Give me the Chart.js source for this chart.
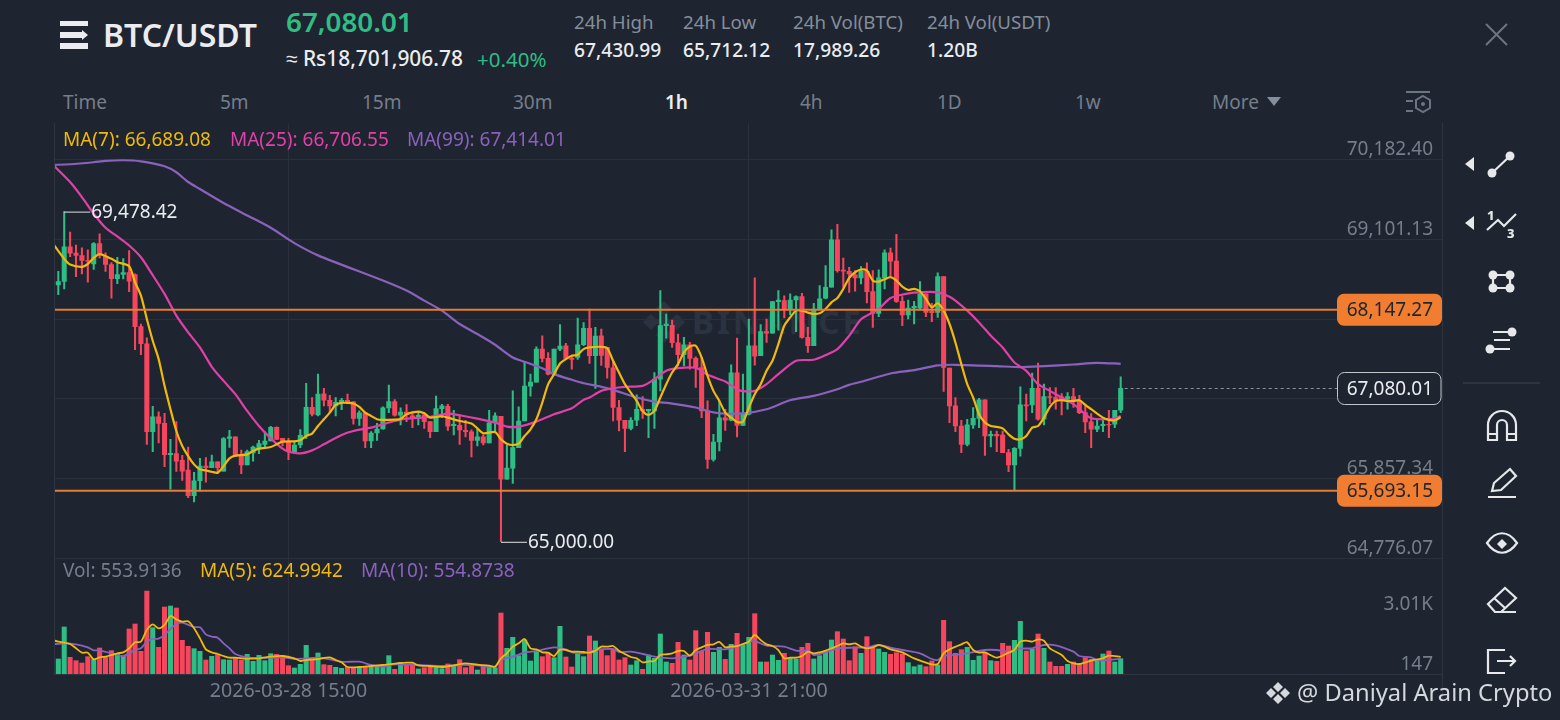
<!DOCTYPE html>
<html>
<head>
<meta charset="utf-8">
<title>BTC/USDT</title>
<script src="https://cdn.jsdelivr.net/npm/chart.js@4"></script>
<style>
  html, body { margin: 0; padding: 0; background: #1e2530; }
  #page { position: relative; width: 1560px; height: 720px; overflow: hidden; background: #1e2530; font-family: "Noto Sans", sans-serif; color: #848e9c; }
  #page div { position: absolute; white-space: nowrap; line-height: 1; }
  canvas { position: absolute; left: 54px; }
  #priceChart { top: 121px; }
  #volChart { top: 558px; }
  svg { position: absolute; overflow: visible; left: 0; top: 0; }
  .tab { top: 93px; font-size: 19px; color: #757e8b; }
  .statHead { top: 13px; font-size: 18.7px; color: #848e9c; }
  .statVal { top: 40px; font-size: 19.2px; color: #eaecef; font-weight: 500; }
  .leg { font-size: 19px; }
  .rule { background: #2e3541; }
</style>
</head>
<body>
<div id="page">
  <div style="left:643px;top:305px;font-size:33px;font-weight:700;letter-spacing:3px;color:#2c3340;padding-left:49px;">BINANCE</div>
  <svg width="1560" height="720" style="z-index:0">
    <path d="M664 301l8 8-8 8-8-8zM664 327l8 8-8 8-8-8zM651 314l8 8-8 8-8-8zM677 314l8 8-8 8-8-8zM664 314l8 8-8 8-8-8z" fill="#2c3340"/>
  </svg>

  <canvas id="priceChart" width="1388" height="440"></canvas>
  <canvas id="volChart" width="1388" height="142"></canvas>

  <div class="rule" style="left:54px;top:123px;width:1px;height:551px;"></div>
  <div class="rule" style="left:1442px;top:123px;width:1px;height:577px;"></div>
  <div class="rule" style="left:54px;top:674px;width:1388px;height:1px;"></div>
  <div class="rule" style="left:1463px;top:382px;width:77px;height:2px;"></div>

  <div style="left:103px;top:19px;font-size:32px;font-weight:600;color:#eaecef;">BTC/USDT</div>
  <div style="left:286px;top:8px;font-size:27.8px;font-weight:600;color:#2ebd85;">67,080.01</div>
  <div style="left:286px;top:48px;font-size:20.9px;font-weight:500;color:#eaecef;">≈ Rs18,701,906.78</div>
  <div style="left:477px;top:49px;font-size:20.5px;color:#2ebd85;">+0.40%</div>

  <div class="statHead" style="left:574px;">24h High</div>
  <div class="statVal" style="left:574px;">67,430.99</div>
  <div class="statHead" style="left:683px;">24h Low</div>
  <div class="statVal" style="left:683px;">65,712.12</div>
  <div class="statHead" style="left:793px;">24h Vol(BTC)</div>
  <div class="statVal" style="left:793px;">17,989.26</div>
  <div class="statHead" style="left:927px;">24h Vol(USDT)</div>
  <div class="statVal" style="left:927px;">1.20B</div>

  <div class="tab" style="left:63px;">Time</div>
  <div class="tab" style="left:220px;">5m</div>
  <div class="tab" style="left:362px;">15m</div>
  <div class="tab" style="left:513px;">30m</div>
  <div class="tab" style="left:665px;color:#eaecef;font-weight:600;">1h</div>
  <div class="tab" style="left:800px;">4h</div>
  <div class="tab" style="left:937px;">1D</div>
  <div class="tab" style="left:1075px;">1w</div>
  <div class="tab" style="left:1212px;">More</div>

  <div class="leg" style="left:63px;top:130px;color:#f0b90b;">MA(7): 66,689.08</div>
  <div class="leg" style="left:230px;top:130px;color:#e040a8;">MA(25): 66,706.55</div>
  <div class="leg" style="left:407px;top:130px;color:#8a62bd;">MA(99): 67,414.01</div>
  <div class="leg" style="left:63px;top:561px;color:#757e8b;">Vol: 553.9136</div>
  <div class="leg" style="left:200px;top:561px;color:#f0b90b;">MA(5): 624.9942</div>
  <div class="leg" style="left:361px;top:561px;color:#8a62bd;">MA(10): 554.8738</div>

  <div style="left:1297px;top:681px;font-size:23.7px;color:#d5d8dc;">@ Daniyal Arain Crypto</div>

  <svg width="1560" height="720">
    <!-- header icon -->
    <g fill="#eaecef">
      <rect x="60" y="21" width="28" height="5"/>
      <rect x="60" y="32" width="22" height="6"/>
      <path d="M82 30l6 5-6 5z"/>
      <rect x="60" y="43" width="28" height="6"/>
    </g>
    <!-- close -->
    <path d="M1486 24l21 21M1507 24l-21 21" stroke="#6c7582" stroke-width="2" fill="none"/>
    <!-- more triangle -->
    <path d="M1267 97h14l-7 9z" fill="#848e9c"/>
    <!-- chart settings -->
    <g stroke="#6c7582" stroke-width="2" fill="none">
      <path d="M1406 92h24M1406 101h7M1406 111h7"/>
      <path d="M1423 96l7 4v8l-7 4-7-4v-8z"/>
    </g>
    <circle cx="1423" cy="104" r="2" fill="#6c7582"/>

    <!-- drawing tools -->
    <g fill="#e6e8ea">
      <path d="M1465 164l9-7v14z"/>
      <path d="M1465 223l9-7v14z"/>
      <circle cx="1492" cy="173" r="4.5"/><circle cx="1510" cy="156" r="4.5"/>
      <circle cx="1493" cy="275" r="4.5"/><circle cx="1510" cy="275" r="4.5"/>
      <circle cx="1493" cy="288" r="4.5"/><circle cx="1510" cy="288" r="4.5"/>
      <circle cx="1512" cy="332" r="4.5"/><circle cx="1490" cy="349" r="4.5"/>
    </g>
    <g stroke="#e6e8ea" stroke-width="2.2" fill="none">
      <path d="M1492 173L1510 156"/>
      <path d="M1487 230l11-10 6 6 12-12"/>
      <path d="M1493 275h17M1493 288h17M1493 275v13M1510 275v13"/>
      <path d="M1493 332h19M1494 340h16M1490 349h20"/>
      <path d="M1488 440v-15a14 14 0 0 1 28 0v15h-9v-15a5 5 0 0 0-10 0v15zM1488 434h9M1507 434h9"/>
      <path d="M1492 491l2-8 16-14 6 7-15 14zM1488 497h28"/>
      <path d="M1487 543c9-13 21-13 30 0c-9 13-21 13-30 0z"/>
      <path d="M1488 604l17-16 11 10-15 14h-6zM1494 598l11 10M1496 612h20"/>
      <path d="M1505 650h-17v23h17M1497 661h18M1510 656l5 5-5 5"/>
    </g>
    <path d="M1502 539l5 5-5 5-5-5z" fill="#e6e8ea"/>
    <g fill="#e6e8ea" font-family="Noto Sans" font-weight="800" font-size="13">
      <text x="1487" y="220">1</text>
      <text x="1507" y="238">3</text>
    </g>
    <!-- bottom logo -->
    <g fill="#d5d8dc">
      <path d="M1278 682l5 5-5 5-5-5zM1278 694l5 5-5 5-5-5zM1271 688l5 5-5 5-5-5zM1285 688l5 5-5 5-5-5z"/>
    </g>
  </svg>
</div>

<script>
// candles, oldest first (1h)
const opens = [
  68484,68484,68530,69001,68915,68883,68815,68770,69046,68869,
  68761,68570,68625,68652,68625,67918,67686,66494,66694,66607,
  66181,66195,66104,65973,65624,65828,66027,66005,66086,65959,
  66403,66422,66163,66041,66204,66263,66322,66367,66553,66403,
  66358,66222,66313,66444,66825,66721,67006,66920,66843,66893,
  66920,66898,66675,66748,66367,66476,66530,66816,66902,66716,
  66761,66707,66675,66721,66630,66494,66807,66839,66576,66580,
  66512,66490,66376,66422,66340,66630,66703,65850,66000,66277,
  66639,67111,67165,67614,67487,67274,67614,67659,67487,67500,
  67673,67895,67523,67795,67636,67360,66821,66648,66539,66648,
  66798,66775,66775,67206,67931,67936,67700,67537,67673,67487,
  67364,66775,66118,66354,66680,66648,67292,66580,66730,67659,
  67523,67850,67831,68257,68271,68162,68280,68325,67772,67659,
  68158,68303,68452,69096,68684,68670,68620,68579,68670,68393,
  68099,68579,68919,68806,68262,68076,68171,68171,68362,68126,
  68112,68597,67355,66843,66571,66322,66585,66675,66925,66435,
  66458,66449,66209,66041,66267,66857,66857,67083,66662,66970,
  66957,66966,66934,66970,66911,66753,66626,66526,66576,66594,
  66594,66784
];
const highs = [
  68502,68670,69478,69200,69024,68987,68960,69060,69178,68919,
  68788,68860,68842,68951,68634,67954,67768,66839,66762,66743,
  66390,66630,66172,66286,65941,66132,66141,66177,66086,66413,
  66512,66422,66245,66245,66299,66376,66490,66567,66558,66403,
  66403,66367,66521,67151,66957,67274,67083,66988,66956,66947,
  67002,66902,66775,66748,66494,66607,66829,67124,66929,66816,
  66861,66739,66766,66752,66630,66975,66866,66866,66784,66721,
  66648,66517,66530,66449,66784,66748,66703,66313,67047,66829,
  67441,67274,67645,67795,67568,67614,67945,67691,67532,68035,
  67972,68158,67908,67886,67636,67455,66920,66648,66684,66993,
  66970,66798,67296,68407,68090,68008,67818,67772,67704,67509,
  67500,66911,66458,66911,66798,67401,67763,67274,68022,68579,
  67945,68022,68257,68407,68335,68362,68335,68371,67908,68235,
  68475,68747,69232,69305,68847,68724,68679,68733,68783,68679,
  68688,68960,68983,69169,68325,68280,68262,68529,68362,68235,
  68647,68597,67355,66957,66648,66662,66821,66947,66925,66503,
  66503,66503,66254,66277,67102,67002,67287,67423,67138,67093,
  67093,67011,67024,67083,66988,66866,66739,66648,66684,66784,
  66784,67238
];
const lows = [
  68480,68353,68430,68869,68597,68634,68520,68693,68851,68666,
  68303,68502,68566,68393,67605,67537,66322,66222,66340,66018,
  65714,65955,65832,65597,65542,65687,65810,66005,65923,65959,
  66281,66159,65923,66041,66095,66195,66267,66367,66390,66299,
  66113,66204,66277,66403,66707,66707,66843,66752,66707,66793,
  66888,66594,66580,66277,66277,66376,66526,66752,66703,66585,
  66630,66548,66585,66539,66412,66494,66684,66512,66449,66322,
  66422,66150,66299,66313,66340,66476,65000,65850,65791,66277,
  66639,66975,67165,67441,67265,67265,67591,67487,67342,67473,
  67659,67419,67079,67392,67219,66639,66503,66222,66517,66576,
  66675,66412,66539,67047,67763,67636,67387,67387,67342,67093,
  66684,65995,66095,66231,66512,66639,66422,66580,66721,67396,
  67523,67704,67831,67872,68035,68081,67850,67763,67568,67659,
  68158,68294,68452,68656,68452,68384,68398,68498,68239,67908,
  68053,68430,68597,68248,67931,68022,67954,68162,68053,67985,
  68044,67038,66617,66494,66209,66299,66539,66548,66172,66286,
  66222,66209,65950,65696,66163,66639,66753,66648,66585,66875,
  66798,66721,66798,66821,66739,66481,66277,66494,66494,66412,
  66548,66753
];
const closes = [
  68498,68530,69001,68915,68883,68815,68806,69046,68906,68761,
  68570,68625,68652,68534,67918,67686,66494,66694,66607,66181,
  66200,66095,65959,65624,65828,66027,66005,66086,66005,66399,
  66422,66163,66041,66222,66286,66331,66367,66553,66390,66358,
  66231,66313,66444,66825,66730,67002,66920,66843,66893,66920,
  66898,66675,66748,66367,66476,66530,66816,66902,66716,66761,
  66730,66684,66716,66630,66494,66807,66843,66567,66594,66517,
  66494,66376,66422,66340,66612,66707,65850,66000,66277,66639,
  67111,67165,67614,67487,67274,67614,67655,67487,67473,67673,
  67895,67523,67791,67528,67364,66821,66648,66539,66648,66798,
  66775,66798,67206,67931,67954,67700,67537,67673,67487,67364,
  66775,66118,66354,66680,66648,67292,66580,66730,67659,67519,
  67850,67831,68257,68280,68158,68280,68325,67772,67659,68158,
  68294,68452,69096,68679,68670,68634,68579,68670,68393,68099,
  68579,68919,68806,68262,68076,68171,68194,68362,68112,68108,
  68597,67364,66843,66571,66322,66585,66675,66925,66435,66458,
  66435,66209,66041,66267,66857,66843,67083,66662,66970,66957,
  66911,66929,66970,66911,66753,66626,66526,66571,66594,66585,
  66784,67080
];
const volumes = [
  1416,545,1706,605,484,399,629,545,944,605,
  847,726,653,1634,1815,823,3010,1682,968,2432,
  2468,2396,1222,1004,920,823,508,641,702,520,
  508,593,508,714,460,678,484,738,714,666,
  302,218,351,1041,508,762,339,315,242,206,
  242,242,230,242,266,254,254,666,169,424,
  339,363,182,230,278,266,194,363,315,520,
  230,290,145,290,242,230,2214,932,1331,666,
  1234,472,799,629,750,593,1730,617,254,774,
  629,1379,1198,871,666,895,508,593,327,484,
  169,690,569,1452,436,387,1150,690,508,1573,
  835,1513,787,968,532,1077,1476,1053,1331,2190,
  436,436,690,496,750,569,545,968,1113,545,
  666,811,1234,1537,1271,484,992,750,1355,932,
  908,787,714,774,726,411,266,327,266,472,
  327,1948,1174,750,883,968,496,653,750,484,
  460,1113,1016,1222,1912,835,908,1452,932,436,
  278,278,351,436,363,593,532,484,726,835,
  436,554
];

// moving average lines, read at the candles where they bend
const ma7Index = [0,2,3,5,6,7,8,10,11,13,14,15,16,17,18,19,20,21,22,23,24,25,26,27,28,29,30,31,33,34,35,37,38,39,41,42,43,44,45,46,47,48,49,50,51,52,53,54,55,56,58,59,60,62,63,64,66,67,69,71,72,73,75,76,77,78,79,80,81,82,83,84,85,86,87,88,89,90,91,93,94,95,96,97,98,99,100,101,102,103,104,105,106,107,108,109,110,111,112,113,114,115,116,117,118,119,120,121,122,123,124,125,126,127,128,129,130,131,132,133,134,135,136,137,138,139,140,141,142,143,144,145,146,147,148,149,150,151,152,153,154,155,156,157,158,159,160,161,162,163,164,165,166,167,168,169,170,171,172,173,174,175,176,177,178,179,180,181];
const ma7Values = [69055,68838,68761,68729,68770,68851,68901,68838,68792,68738,68520,68339,68022,67727,67478,67115,66798,66503,66299,66163,66050,65982,65968,65950,65937,66027,66132,66168,66186,66231,66263,66286,66322,66358,66363,66376,66435,66467,66571,66662,66752,66857,66884,66884,66875,66829,66752,66707,66662,66653,66657,66666,66730,66766,66743,66684,66703,66684,66639,66603,66539,66471,66490,66390,66331,66313,66331,66435,66526,66662,66888,67138,67274,67419,67478,67523,67537,67614,67636,67645,67627,67455,67296,67138,67024,66911,66775,66721,66775,66957,67138,67296,67410,67568,67650,67659,67500,67251,67047,66911,66753,66684,66626,66626,66821,67002,67138,67319,67455,67682,67931,68044,68135,68135,68108,68090,68099,68158,68248,68307,68430,68579,68656,68693,68679,68543,68529,68561,68588,68543,68461,68416,68430,68398,68294,68180,68235,68135,67954,67704,67410,67138,66957,66730,66617,66571,66558,66539,66458,66399,66390,66435,66548,66571,66684,66830,66911,66920,66911,66911,66920,66857,66798,66739,66684,66653,66648,66689];

const ma25Index = [0,3,5,7,9,11,13,15,17,19,21,23,25,27,29,31,33,35,37,39,40,42,44,46,49,51,54,56,58,60,64,67,69,72,75,77,79,82,85,88,90,91,93,95,97,100,102,104,106,109,111,114,116,117,119,121,123,126,129,131,133,135,137,139,140,142,144,146,150,152,153,155,157,159,161,163,165,167,169,171,173,175,176,178,180,181];
const ma25Values = [70121,69880,69676,69450,69259,69141,69019,68860,68616,68362,68067,67840,67636,67374,67183,67002,66775,66571,66403,66263,66222,66199,66240,66322,66449,66503,66548,66594,66639,66671,66693,66739,66716,66671,66616,66562,66562,66630,66730,66810,66925,66957,67047,67083,67102,67115,67206,67319,67355,67360,67265,67174,67070,67043,67047,67138,67274,67455,67469,67532,67614,67795,68019,68112,68158,68307,68353,68380,68384,68325,68271,68135,67976,67795,67636,67432,67319,67138,67047,66957,66866,66730,66675,66662,66671,66706];

const ma99Index = [0,3,7,9,12,15,19,21,23,25,29,33,37,41,45,56,60,63,66,69,72,75,78,80,83,85,88,90,93,95,99,102,105,109,111,113,117,121,125,129,133,135,137,142,146,150,153,160,164,168,173,177,181];
const ma99Values = [70112,70121,70148,70166,70175,70161,70093,70012,69880,69785,69595,69427,69259,69051,68885,68543,68407,68271,68135,67954,67818,67673,67500,67441,67355,67274,67197,67151,67102,67061,66957,66902,66875,66821,66775,66743,66743,66798,66920,66979,67070,67129,67170,67283,67328,67392,67401,67383,67369,67383,67405,67428,67414];

const volMa5Index = [0,1,3,4,5,6,7,8,9,10,11,12,13,14,15,16,17,18,19,20,21,22,23,24,25,26,27,28,29,30,31,33,35,37,39,41,42,43,45,47,48,49,50,52,54,56,57,58,60,61,62,64,66,68,70,72,74,75,76,77,78,79,80,81,82,83,84,85,86,87,88,89,90,91,92,93,94,95,96,97,98,99,100,101,102,103,104,105,106,107,108,109,110,111,112,113,114,115,116,117,118,119,120,121,122,123,124,125,126,127,128,129,130,131,132,133,134,135,136,137,138,139,140,141,142,144,146,148,149,150,151,152,154,155,156,157,158,160,162,163,164,165,166,167,168,169,171,172,173,174,176,178,179,181];
const volMa5Values = [1234,1174,1089,932,774,774,532,605,629,690,750,787,932,1150,1174,1597,1803,1658,1779,2105,1984,1900,1912,1658,1295,895,787,726,653,593,593,557,569,629,653,569,472,508,545,605,508,424,254,254,290,327,351,375,411,411,315,290,254,315,387,339,302,266,569,750,992,1113,1271,932,895,787,774,653,883,871,811,811,799,774,847,992,992,1016,847,726,617,569,424,460,472,690,714,750,835,835,666,871,968,1053,1077,1162,968,992,1016,1089,1174,1416,1234,1077,1016,871,569,593,593,653,811,750,787,847,932,1016,1113,1077,1113,992,932,968,1053,992,895,787,569,411,351,363,750,895,1077,1150,871,774,787,593,774,871,1174,1210,1174,1258,1210,932,690,472,387,363,484,569,666,625];

const volMa10Index = [0,2,4,6,7,8,10,12,14,15,16,17,18,19,20,21,22,24,25,26,27,28,29,30,31,33,35,39,41,43,45,47,49,52,54,56,58,62,66,69,72,75,76,78,80,82,85,87,88,90,92,95,96,98,100,102,105,108,111,114,116,118,119,121,124,126,128,129,131,133,136,138,140,142,144,147,149,150,151,154,158,160,162,164,166,168,170,173,174,176,177,179,181];
const volMa10Values = [1077,1113,1077,968,859,859,750,653,871,932,1174,1271,1283,1416,1634,1815,1863,1706,1694,1440,1355,1319,1113,932,726,605,581,605,545,569,593,532,440,448,327,266,351,327,290,327,315,266,508,629,774,835,968,895,787,750,871,907,799,811,726,629,569,666,908,895,992,1174,1198,1029,992,847,835,690,787,932,956,968,1053,956,871,750,545,508,653,714,871,871,811,920,932,1053,1041,811,653,605,508,508,555];

// horizontal levels drawn on the chart and the marked extremes
const levelPrices = [68147.27, 65693.15];
const lastPrice = 67080.01;
const markedHigh = { index: 2, price: 69478.42 };
const markedLow = { index: 76, price: 65000.00 };

// axis labels
const priceTicks = [70182.40, 69101.13, 68019.86, 66938.60, 65857.34, 64776.07];
const priceTickLabels = ['70,182.40', '69,101.13', '', '', '65,857.34', '64,776.07'];
const volTicks = [3010, 147];
const volTickLabels = ['3.01K', '147'];
const timeTicks = [40, 118];
const timeLabels = ['2026-03-28 15:00', '2026-03-31 21:00'];

const GREEN = '#2ebd85';
const RED = '#f6465d';
const GRID = '#2a313c';
const ORANGE = '#e97c2f';
const AXIS_FONT = '"Noto Sans"';
const candleCount = closes.length;
// visible candle window, the oldest candle is half cut off at the left edge
const xMin = 0.27;
const xMax = 235.44;

const candleColors = closes.map((c, i) => (c >= opens[i] ? GREEN : RED));
const xy = (index, values) => index.map((x, k) => ({ x: x, y: values[k] }));
const fmt = (v) => v.toLocaleString('en-US', { minimumFractionDigits: 2, maximumFractionDigits: 2 });

function maLine(data, color, width) {
  return {
    type: 'line', data: data, borderColor: color, borderWidth: width, order: 0,
    pointRadius: 0, tension: 0.25
  };
}

function xAxis(showLabels, height) {
  return {
    type: 'linear', min: xMin, max: xMax, offset: false,
    border: { display: false },
    grid: { color: GRID, drawTicks: false, offset: false },
    afterBuildTicks: (ax) => { ax.ticks = timeTicks.map((v) => ({ value: v })); },
    afterFit: (ax) => { ax.height = height; },
    ticks: {
      display: showLabels, autoSkip: false, maxRotation: 0, padding: 6, color: '#757e8b',
      font: { family: AXIS_FONT, size: 19.6 },
      callback: (v) => timeLabels[timeTicks.indexOf(v)]
    }
  };
}

function roundBox(ctx, x, y, w, h, fill, stroke) {
  ctx.beginPath();
  ctx.roundRect(x, y, w, h, 7);
  ctx.fillStyle = fill;
  ctx.fill();
  if (stroke) {
    ctx.strokeStyle = stroke;
    ctx.lineWidth = 1;
    ctx.stroke();
  }
}

//---------------marks over the candles------------
const priceMarks = {
  id: 'priceMarks',
  afterDraw(chart) {
    const ctx = chart.ctx;
    const xs = chart.scales.x;
    const ys = chart.scales.y;
    const boxLeft = 1283;
    const boxWidth = 105;
    const labelRight = 1379;
    ctx.save();
    ctx.font = '19px ' + AXIS_FONT;
    ctx.textBaseline = 'middle';

    // marked high and low
    [markedHigh, markedLow].forEach((m) => {
      const x = xs.getPixelForValue(m.index);
      const y = ys.getPixelForValue(m.price);
      ctx.strokeStyle = '#dfe2e6';
      ctx.lineWidth = 1;
      ctx.beginPath();
      ctx.moveTo(x, y + 0.5);
      ctx.lineTo(x + 26, y + 0.5);
      ctx.stroke();
      ctx.fillStyle = '#eaecef';
      ctx.textAlign = 'left';
      ctx.fillText(fmt(m.price), x + 27, y + 1);
    });

    // current price
    const lastY = Math.round(ys.getPixelForValue(lastPrice)) + 0.5;
    ctx.setLineDash([3, 3]);
    ctx.strokeStyle = '#8b929c';
    ctx.beginPath();
    ctx.moveTo(xs.getPixelForValue(candleCount - 1) + 4, lastY);
    ctx.lineTo(boxLeft, lastY);
    ctx.stroke();
    ctx.setLineDash([]);
    roundBox(ctx, boxLeft + 0.5, lastY - 16, boxWidth - 1.5, 32, '#1e2530', '#c3c7cd');
    ctx.fillStyle = '#eaecef';
    ctx.textAlign = 'right';
    ctx.fillText(fmt(lastPrice), labelRight, lastY + 1);

    // drawn support and resistance
    levelPrices.forEach((p) => {
      const y = ys.getPixelForValue(p);
      ctx.strokeStyle = ORANGE;
      ctx.lineWidth = 2;
      ctx.beginPath();
      ctx.moveTo(0, y);
      ctx.lineTo(boxLeft, y);
      ctx.stroke();
      roundBox(ctx, boxLeft, y - 16, boxWidth, 32, '#f07d30');
      ctx.fillStyle = '#1e2530';
      ctx.textAlign = 'right';
      ctx.fillText(fmt(p), labelRight, y + 1);
    });
    ctx.restore();
  }
};

const volLabels = {
  id: 'volLabels',
  afterDraw(chart) {
    const ctx = chart.ctx;
    const ys = chart.scales.y;
    const shift = [14, -5]; // the app keeps these inside the pane
    ctx.save();
    ctx.font = '19px ' + AXIS_FONT;
    ctx.fillStyle = '#757e8b';
    ctx.textAlign = 'right';
    ctx.textBaseline = 'middle';
    volTicks.forEach((v, i) => {
      ctx.fillText(volTickLabels[i], 1379, ys.getPixelForValue(v) + shift[i]);
    });
    ctx.restore();
  }
};

//---------------price chart------------
new Chart(document.getElementById('priceChart'), {
  data: {
    datasets: [
      maLine(xy(ma7Index, ma7Values), '#f0b90b', 2.2),
      maLine(xy(ma25Index, ma25Values), '#e040a8', 2.2),
      maLine(xy(ma99Index, ma99Values), '#8a62bd', 2.2),
      {
        type: 'bar', order: 1, grouped: false, barThickness: 4.4,
        data: closes.map((c, i) => ({ x: i, y: [opens[i], c] })),
        backgroundColor: candleColors
      },
      {
        type: 'bar', order: 2, grouped: false, barThickness: 1.4,
        data: closes.map((c, i) => ({ x: i, y: [lows[i], highs[i]] })),
        backgroundColor: candleColors
      }
    ]
  },
  options: {
    responsive: false,
    animation: false,
    layout: { padding: 0, autoPadding: false },
    plugins: { legend: { display: false }, tooltip: { enabled: false } },
    scales: {
      x: xAxis(false, 0),
      y: {
        position: 'right', min: 64772, max: 70675,
        border: { display: false },
        grid: { color: GRID, drawTicks: false },
        afterBuildTicks: (ax) => { ax.ticks = priceTicks.map((v) => ({ value: v })); },
        afterFit: (ax) => { ax.width = 0; },
        ticks: {
          mirror: true, padding: -9, labelOffset: -10, color: '#757e8b',
          font: { family: AXIS_FONT, size: 19 },
          callback: (v) => priceTickLabels[priceTicks.indexOf(v)]
        }
      }
    }
  },
  plugins: [priceMarks]
});

//---------------volume chart------------
new Chart(document.getElementById('volChart'), {
  data: {
    datasets: [
      maLine(xy(volMa5Index, volMa5Values), '#f0b90b', 1.8),
      maLine(xy(volMa10Index, volMa10Values), '#8a62bd', 1.8),
      {
        type: 'bar', order: 1, grouped: false, barThickness: 4.4,
        data: volumes.map((v, i) => ({ x: i, y: v })),
        backgroundColor: candleColors
      }
    ]
  },
  options: {
    responsive: false,
    animation: false,
    layout: { padding: 0, autoPadding: false },
    plugins: { legend: { display: false }, tooltip: { enabled: false } },
    scales: {
      x: xAxis(true, 26),
      y: {
        position: 'right', min: 0, max: 4211,
        grid: { display: false },
        border: { display: false },
        afterFit: (ax) => { ax.width = 0; },
        ticks: { display: false }
      }
    }
  },
  plugins: [volLabels]
});
</script>
</body>
</html>
